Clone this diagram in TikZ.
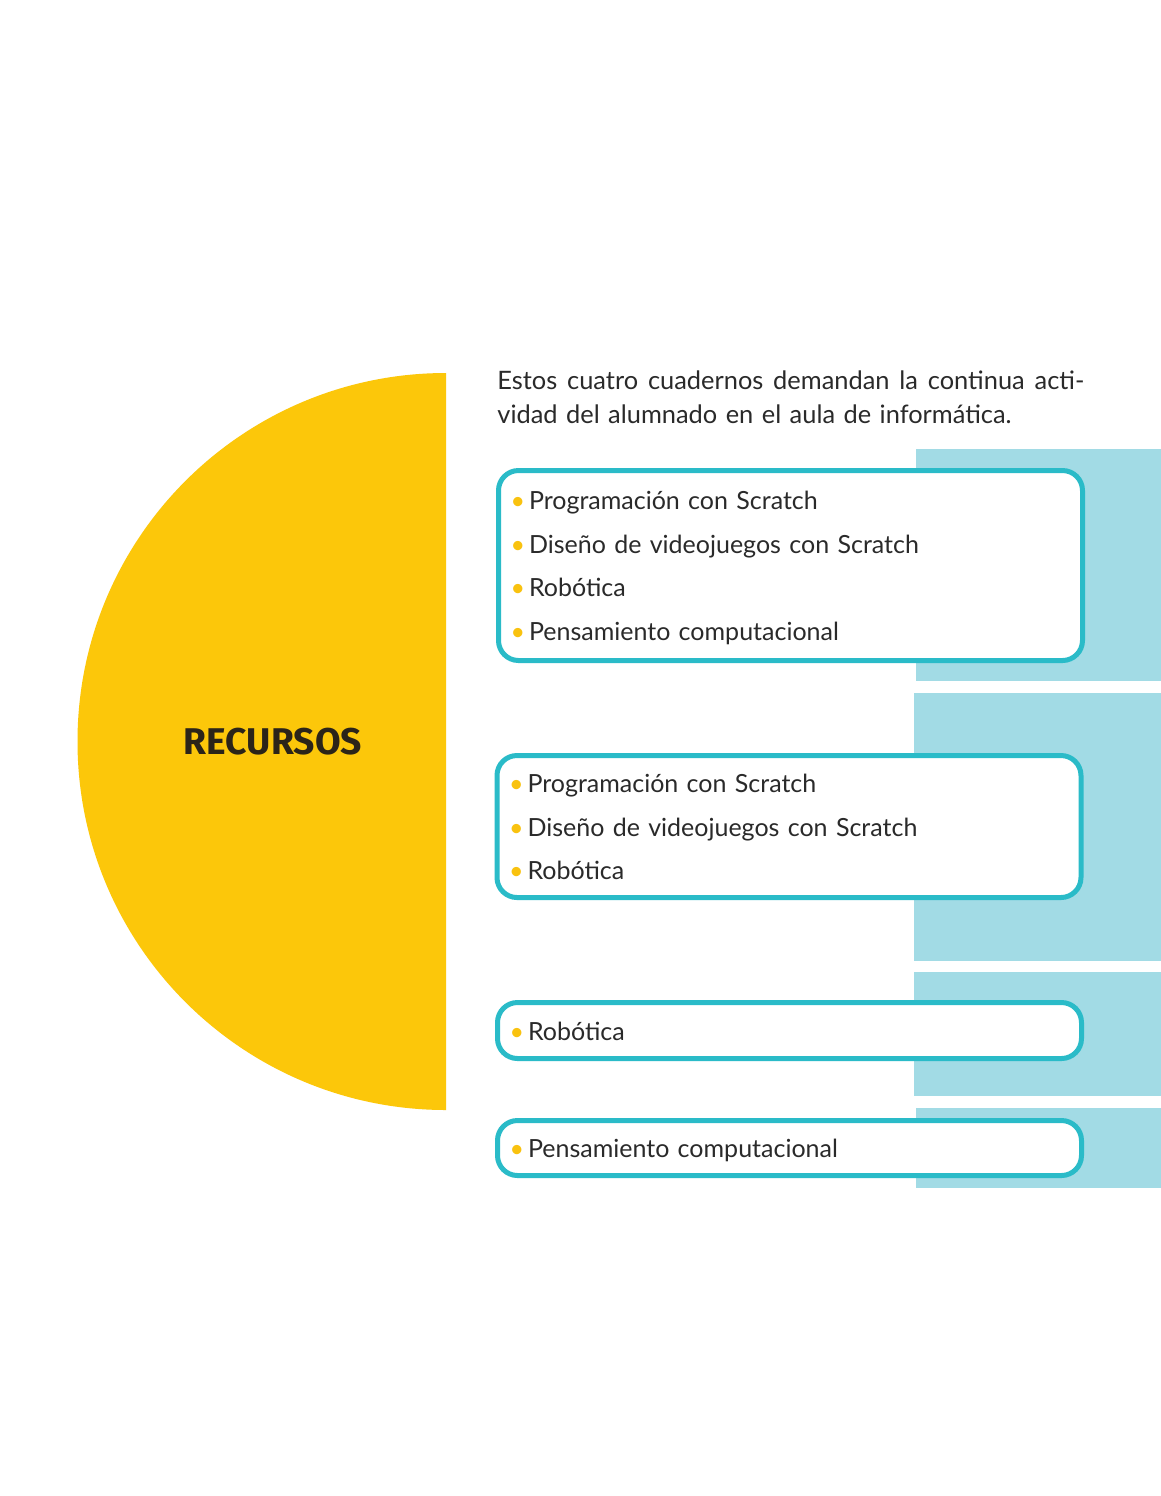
\documentclass[tikz,border=0pt]{standalone}
\usepackage{fontspec}
\setmainfont{Lato}
\newfontfamily\headfont{Fira Sans}
\usepackage{xcolor}
\usepackage{tikz}
\usetikzlibrary{positioning}
\definecolor{RCYellow}{HTML}{FCC70A}
\definecolor{RCTeal}{HTML}{2ABBC8}
\definecolor{RCBlue}{HTML}{A2DBE5}
\definecolor{RCText}{HTML}{2A2A2A}
\definecolor{RCHead}{HTML}{2B2419}
\definecolor{RCBullet}{HTML}{F9C20F}
\newcommand\rcitem{\rule[-3pt]{0pt}{15.5pt}\textcolor{RCBullet}{\textbullet}\hspace{2pt}}

\begin{document}
\begin{tikzpicture}[
        x=0.5pt,y=-0.5pt,
        every node/.style={text=RCText},
        panel/.style={fill=RCBlue,inner sep=0pt,anchor=north west},
        box/.style={rounded corners=10pt,draw=RCTeal,line width=2.5pt,fill=white,align=left,
          text width=280pt,inner xsep=6pt,minimum height=#1,
          font=\fontsize{12.5}{21.75}\selectfont},
        box/.default=28pt
      ]
      \useasboundingbox[fill=white] (0,0) rectangle (1161,1496);

      % yellow half disc
      \fill[RCYellow] (446,373) arc[start angle=270,end angle=90,radius=368.5] -- cycle;
      \node[font=\headfont\bfseries\fontsize{18.6}{22}\selectfont,text=RCHead] (title) at (273,742) {RECURSOS};

      % intro text
      \node[anchor=north west,align=left,inner sep=0pt,text width=293.5pt,
        font=\fontsize{12.7}{17}\selectfont] (intro) at (497,370)
        {\hbox to 293.5pt{Estos\hfill cuatro\hfill cuadernos\hfill demandan\hfill la\hfill continua\hfill acti-}\\
         vidad del alumnado en el aula de informática.};

      % light blue panels
      \node[panel,minimum width=122.5pt,minimum height=116pt] (p1) at (916,449) {};
      \node[panel,minimum width=123.5pt,minimum height=134pt] (p2) at (914,693) {};
      \node[panel,minimum width=123.5pt,minimum height=62pt] (p3) at (914,972) {};
      \node[panel,minimum width=122.5pt,minimum height=40pt] (p4) at (916,1108) {};

      % lists
      \node[box=95pt] (b1) at (790.5,565.5)
        {\rcitem Programación con Scratch\\
         \rcitem Diseño de videojuegos con Scratch\\
         \rcitem Robótica\\
         \rcitem Pensamiento computacional};
      \node[box=71pt] (b2) at (789,826.5)
        {\rcitem Programación con Scratch\\
         \rcitem Diseño de videojuegos con Scratch\\
         \rcitem Robótica};
      \node[box=28pt] (b3) at (789.5,1030.5) {\rcitem Robótica};
      \node[box=27.5pt] (b4) at (789.5,1148) {\rcitem Pensamiento computacional};
    \end{tikzpicture}
\end{document}
